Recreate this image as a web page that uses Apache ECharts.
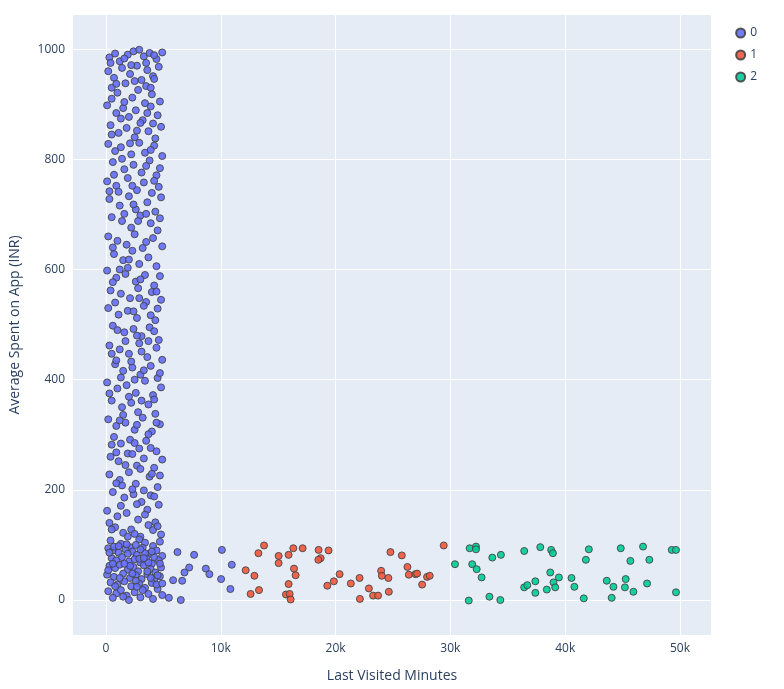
<!DOCTYPE html>
<html>
<head>
<meta charset="utf-8">
<script src="https://cdn.jsdelivr.net/npm/echarts@6/dist/echarts.min.js"></script>
<style>html,body{margin:0;padding:0;background:#fff}#chart{width:784px;height:689px}</style>
</head>
<body>
<div id="chart"></div>
<script>
// cluster labels
var clusters = ['0', '1', '2'];
var colors = ['#636efa', '#EF553B', '#00cc96'];
var xTicks = [0, 10000, 20000, 30000, 40000, 50000];
var yTicks = [0, 200, 400, 600, 800, 1000];

// cluster 0: [minutes in thousands, spend]
var cluster0 = [
  [0.3,985],[0.8,992],[1.2,978],[1.9,990],[2.4,996],[2.9,999],[3.3,987],[3.8,993],[4.4,982],[4.9,994],
  [0.2,960],[0.7,948],[1.4,966],[2.1,955],[2.7,970],[3.1,944],[3.6,962],[4.1,951],[4.6,968],[0.5,930],
  [1.0,921],[1.7,938],[2.3,912],[2.8,926],[3.5,933],[4.0,918],[4.7,905],[0.1,898],[0.9,884],[1.5,893],
  [2.0,877],[2.6,889],[3.2,871],[3.9,896],[4.5,880],[0.4,862],[1.1,848],[1.8,857],[2.5,840],[3.0,866],
  [3.7,851],[4.3,838],[4.8,859],[0.2,828],[0.8,815],[1.3,822],[2.2,809],[2.9,830],[3.4,812],[4.2,825],
  [4.9,806],[0.6,795],[1.6,782],[2.4,790],[3.1,776],[3.8,798],[4.4,771],[0.1,760],[0.9,752],[1.9,766],
  [2.7,744],[3.3,758],[4.0,739],[4.6,750],[0.3,728],[1.2,716],[2.0,733],[2.6,709],[3.6,722],[4.3,705],
  [4.8,731],[0.5,695],[1.4,688],[2.2,676],[3.0,698],[3.9,684],[4.5,671],[0.2,660],[1.0,652],[1.8,645],
  [2.5,664],[3.2,639],[4.1,657],[4.9,642],[0.7,628],[1.5,617],[2.3,634],[2.9,610],[3.7,622],[4.4,606],
  [0.1,598],[0.9,585],[1.7,592],[2.6,578],[3.4,590],[4.2,571],[4.7,588],[0.4,562],[1.3,556],[2.1,548],
  [2.8,566],[3.5,541],[4.0,559],[4.8,545],[0.2,530],[1.1,518],[1.9,525],[2.7,512],[3.3,534],[4.3,508],
  [0.6,498],[1.6,486],[2.4,492],[3.1,479],[3.8,495],[4.6,472],[0.3,462],[1.2,455],[2.0,447],[2.9,466],
  [3.6,441],[4.4,458],[4.9,436],[0.8,428],[1.5,416],[2.3,422],[3.0,409],[3.9,425],[4.5,403],[0.1,395],
  [1.0,384],[1.8,390],[2.6,376],[3.4,398],[4.1,372],[4.8,386],[0.5,362],[1.4,350],[2.2,358],[2.8,341],
  [3.7,355],[4.3,338],[0.2,328],[0.9,316],[1.7,322],[2.5,309],[3.2,331],[4.0,306],[4.7,319],[0.7,296],
  [1.3,284],[2.1,291],[2.9,275],[3.5,289],[4.4,270],[0.4,260],[1.1,252],[1.9,266],[2.7,244],[3.3,257],
  [4.2,240],[4.9,255],[0.3,228],[1.2,218],[2.0,232],[2.6,211],[3.8,224],[4.5,205],[0.6,196],[1.6,186],
  [2.4,192],[3.1,178],[3.9,190],[4.6,173],[0.1,162],[1.0,152],[1.8,158],[2.8,146],[3.6,164],[4.3,141],
  [0.8,132],[1.5,122],[2.2,128],[3.0,115],[3.7,136],[4.8,119],[0.4,108],[1.3,102],[2.1,96],[2.9,110],
  [3.4,104],[4.1,98],[4.7,106],[0.2,94],[0.6,90],[1.1,86],[1.7,92],[2.3,88],[2.7,82],[3.2,95],
  [3.8,84],[4.4,90],[4.9,80],[0.5,76],[0.9,72],[1.4,78],[2.0,70],[2.5,74],[3.0,68],[3.5,77],
  [4.0,66],[4.6,72],[0.3,62],[0.8,58],[1.2,64],[1.9,55],[2.4,60],[2.8,52],[3.3,63],[3.9,56],
  [4.3,50],[4.8,59],[0.1,46],[0.7,42],[1.5,48],[2.1,40],[2.6,45],[3.1,38],[3.6,47],[4.2,36],
  [4.7,43],[0.4,32],[1.0,28],[1.6,34],[2.2,25],[2.9,30],[3.4,22],[4.0,31],[4.5,20],[0.2,16],
  [0.9,12],[1.3,18],[1.8,8],[2.5,14],[3.0,5],[3.7,11],[4.1,2],[4.9,9],[0.6,4],[2.0,0],
  [0.5,910],[1.6,904],[3.4,902],[4.2,946],[2.1,829],[3.9,817],[0.7,772],[1.1,741],[2.4,718],[3.5,701],
  [0.6,577],[1.9,603],[2.9,548],[4.5,529],[1.7,470],[3.1,451],[0.9,435],[2.5,400],[4.2,364],[1.5,336],
  [3.7,301],[0.5,282],[2.3,265],[4.0,229],[1.4,208],[3.3,199],[2.7,174],[0.3,140],[4.1,127],[1.9,115],
  [3.4,85],[2.9,75],[1.2,40],[4.4,28],[2.6,35],[0.7,97],[1.8,101],[3.6,52],[2.1,62],[4.7,66],
  [0.4,975],[1.6,983],[2.2,971],[3.5,975],[4.2,989],[0.9,937],[2.5,942],[3.9,930],[1.3,874],[3.6,884],
  [4.1,865],[0.5,845],[2.7,852],[1.4,801],[3.5,788],[4.7,784],[0.3,742],[2.3,752],[4.2,761],[1.6,701],
  [2.8,688],[4.7,693],[0.6,640],[2.0,618],[3.5,650],[1.2,600],[3.0,582],[4.4,560],[0.8,540],[2.4,524],
  [3.9,517],[1.0,490],[2.7,480],[4.2,488],[0.5,447],[2.2,433],[3.7,470],[1.3,404],[3.3,417],[4.7,412],
  [0.3,375],[2.0,369],[3.1,362],[1.2,326],[2.7,318],[4.4,322],[0.9,268],[2.5,285],[3.9,276],[1.7,245],
  [3.0,238],[4.7,226],[0.9,212],[2.3,201],[4.2,188],[1.3,171],[3.4,155],[0.5,128],[2.5,120],[4.5,134],
  [1.1,98],[3.0,92],[4.2,78],[1.6,66],[3.7,68],[0.3,86],[2.3,48],[4.5,45],[0.8,25],[3.2,18],
  [1.5,6],[2.7,24],[3.9,40],[4.9,30],[0.2,54],[1.9,84],[2.6,100],[3.3,76],[4.0,88],[0.6,66]
];
var extra0 = [
  [6.23,87],[7.68,82],[10.1,91],[10.96,64],[10.03,38],[10.84,20],[8.7,57],[9.01,47],[7.25,59],[6.84,50],
  [5.85,36],[6.64,35],[6.52,0],[5.48,4]
];
var cluster1 = [
  [13.77,99],[13.28,85],[12.17,54],[12.93,44],[12.6,11],[13.33,18],[15.04,80],[15.04,67],[15.91,82],[16.32,94],
  [17.13,94],[16.38,57],[16.52,45],[15.91,29],[15.68,10],[16.0,11],[16.09,1],[18.52,91],[19.39,90],[18.7,76],
  [18.5,73],[20.35,47],[19.85,34],[19.28,26],[21.33,30],[22.09,40],[22.12,2],[22.9,21],[23.27,8],[23.7,8],
  [23.97,53],[24.03,44],[24.6,40],[24.64,15],[24.78,87],[25.77,81],[26.26,60],[26.38,46],[26.96,47],[27.1,48],
  [27.54,28],[27.97,42],[28.2,44],[29.42,99]
];
var cluster2 = [
  [31.68,94],[32.23,97],[32.23,92],[30.4,65],[31.9,65],[32.29,56],[32.72,41],[33.65,77],[34.4,82],[31.6,-1],
  [33.4,6],[34.35,0],[36.43,89],[37.83,96],[38.78,91],[38.93,85],[36.43,23],[36.7,27],[37.4,34],[37.4,13],
  [38.4,19],[38.7,50],[38.98,32],[39.45,41],[39.13,23],[40.55,40],[40.8,24],[41.62,3],[42.06,92],[41.8,73],
  [44.84,94],[46.78,97],[45.68,71],[47.33,73],[43.62,35],[44.2,24],[45.27,38],[45.2,23],[45.94,15],[47.13,30],
  [44.05,4],[49.28,91],[49.65,91],[49.65,14]
];

function toPoints(arr) {
  return arr.map(function (p) { return [p[0] * 1000, p[1]]; });
}
var seriesData = [toPoints(cluster0.concat(extra0)), toPoints(cluster1), toPoints(cluster2)];

var chart = echarts.init(document.getElementById('chart'));
chart.setOption({
  animation: false,
  textStyle: { fontFamily: '"Open Sans", sans-serif', color: '#2a3f5f' },
  grid: { left: 72, right: 73, top: 15, bottom: 54, backgroundColor: '#E5ECF6', show: true, borderWidth: 0 },
  legend: {
    orient: 'vertical', right: 22, top: 22, itemGap: 10, icon: 'circle', itemWidth: 9, itemHeight: 9,
    textStyle: { fontSize: 12, color: '#2a3f5f' },
    data: clusters
  },
  xAxis: {
    type: 'value', min: -2870, max: 52700,
    name: 'Last Visited Minutes', nameLocation: 'middle', nameGap: 34,
    nameTextStyle: { fontSize: 14, color: '#2a3f5f' },
    axisLine: { show: false }, axisTick: { show: false, customValues: xTicks },
    axisLabel: { color: '#2a3f5f', fontSize: 12, customValues: xTicks,
      formatter: function (v) { return v === 0 ? '0' : (v / 1000) + 'k'; } },
    splitLine: { lineStyle: { color: '#fff', width: 1 } }
  },
  yAxis: {
    type: 'value', min: -63.5, max: 1062,
    name: 'Average Spent on App (INR)', nameLocation: 'middle', nameGap: 51,
    nameTextStyle: { fontSize: 14, color: '#2a3f5f' },
    axisLine: { show: false }, axisTick: { show: false, customValues: yTicks },
    axisLabel: { color: '#2a3f5f', fontSize: 12, customValues: yTicks,
      formatter: function (v) { return String(v); } },
    splitLine: { lineStyle: { color: '#fff', width: 1 } }
  },
  series: clusters.map(function (c, i) {
    return {
      name: c, type: 'scatter', data: seriesData[i], symbolSize: 7,
      itemStyle: { color: colors[i], borderColor: '#444', borderWidth: 1, opacity: 0.9 }
    };
  })
});
</script>
</body>
</html>
